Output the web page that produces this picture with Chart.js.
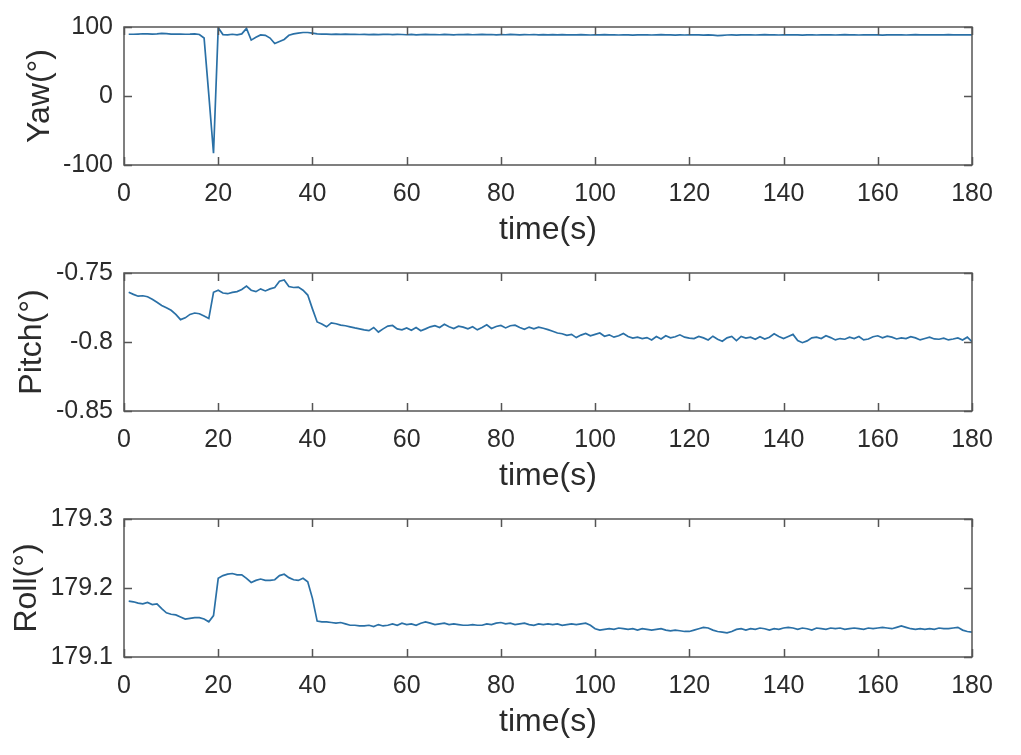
<!DOCTYPE html>
<html>
<head>
<meta charset="utf-8">
<script src="https://cdn.jsdelivr.net/npm/chart.js@4.4.1/dist/chart.umd.min.js"></script>
<style>
  body { margin: 0; background: #fff; }
  #wrap { position: relative; width: 1021px; height: 755px; overflow: hidden; }
  canvas { position: absolute; left: 0; }
</style>
</head>
<body>
<div id="wrap">
  <canvas id="yaw" width="1021" height="260" style="top:0px"></canvas>
  <canvas id="pitch" width="1021" height="260" style="top:246px"></canvas>
  <canvas id="roll" width="1021" height="260" style="top:492px"></canvas>
</div>
<script>
// time stamps (s)
const timeS = [
  1,2,3,4,5,6,7,8,9,10,11,12,13,14,15,16,17,18,19,20,
  21,22,23,24,25,26,27,28,29,30,31,32,33,34,35,36,37,38,39,40,
  41,42,43,44,45,46,47,48,49,50,51,52,53,54,55,56,57,58,59,60,
  61,62,63,64,65,66,67,68,69,70,71,72,73,74,75,76,77,78,79,80,
  81,82,83,84,85,86,87,88,89,90,91,92,93,94,95,96,97,98,99,100,
  101,102,103,104,105,106,107,108,109,110,111,112,113,114,115,116,117,118,119,120,
  121,122,123,124,125,126,127,128,129,130,131,132,133,134,135,136,137,138,139,140,
  141,142,143,144,145,146,147,148,149,150,151,152,153,154,155,156,157,158,159,160,
  161,162,163,164,165,166,167,168,169,170,171,172,173,174,175,176,177,178,179,180
];

// Yaw (deg)
const yawDeg = [
  89.5, 89.5, 89.8, 90.2, 90.0, 89.6, 90.1, 90.8, 90.3, 89.8,
  89.6, 89.7, 89.5, 89.6, 90.0, 89.2, 84, 2, -83, 99,
  89, 88.5, 89.5, 88.5, 90, 98, 81, 85, 88.5, 88,
  84, 76, 79, 82, 88, 90, 91, 92, 92, 91,
  90.0, 89.6, 89.8, 89.4, 89.7, 89.3, 89.6, 89.2, 89.5, 89.1,
  89.4, 89.0, 89.3, 88.9, 89.2, 89.5, 89.0, 89.3, 89.1, 88.8,
  89.2, 88.7, 89.0, 89.3, 88.9, 89.1, 88.8, 89.2, 89.0, 88.7,
  89.1, 88.9, 89.2, 88.8, 89.0, 89.3, 88.9, 89.1, 88.7, 89.0,
  88.8, 89.2, 88.9, 88.6, 89.0, 88.8, 89.1, 88.7, 88.9, 88.6,
  88.9, 88.7, 89.0, 88.6, 88.8, 88.5, 88.9, 88.7, 88.4, 88.8,
  88.6, 88.9, 88.5, 88.7, 88.4, 88.8, 88.6, 88.3, 88.7, 88.5,
  88.8, 88.4, 88.6, 88.9, 88.5, 88.7, 88.3, 88.6, 88.4, 88.8,
  88.5, 88.7, 88.3, 88.6, 88.1, 87.6, 88.0, 88.4, 88.6, 88.3,
  88.7, 88.5, 88.8, 88.4, 88.6, 88.9, 88.5, 88.7, 88.4, 88.6,
  88.8, 88.5, 88.7, 88.3, 88.6, 88.8, 88.4, 88.7, 88.5, 88.8,
  88.4, 88.6, 88.9, 88.5, 88.7, 88.4, 88.6, 88.8, 88.5, 88.7,
  88.3, 88.6, 88.8, 88.5, 88.7, 88.4, 88.6, 88.9, 88.5, 88.7,
  88.6, 88.8, 88.5, 88.7, 88.9, 88.6, 88.8, 88.5, 88.7, 88.6
];

// Pitch (deg)
const pitchDeg = [
  -0.7640, -0.7655, -0.7668, -0.7665, -0.7672, -0.7690, -0.7712, -0.7735, -0.7752, -0.7770,
  -0.7800, -0.7838, -0.7825, -0.7800, -0.7790, -0.7795, -0.7812, -0.7830, -0.7640, -0.7625,
  -0.7645, -0.7650, -0.7640, -0.7635, -0.7620, -0.7595, -0.7625, -0.7635, -0.7615, -0.7630,
  -0.7615, -0.7605, -0.7560, -0.7550, -0.7598, -0.7605, -0.7602, -0.7625, -0.7660, -0.7760,
  -0.7855, -0.7870, -0.7890, -0.7862, -0.7868, -0.7878, -0.7882, -0.7890, -0.7898, -0.7905,
  -0.7912, -0.7918, -0.7895, -0.7928, -0.7905, -0.7885, -0.7880, -0.7905, -0.7912, -0.7898,
  -0.7915, -0.7895, -0.7918, -0.7905, -0.7890, -0.7882, -0.7895, -0.7872, -0.7890, -0.7902,
  -0.7885, -0.7892, -0.7905, -0.7890, -0.7912, -0.7895, -0.7875, -0.7902, -0.7888, -0.7880,
  -0.7898, -0.7882, -0.7878, -0.7895, -0.7908, -0.7892, -0.7905, -0.7892, -0.7900, -0.7910,
  -0.7922, -0.7935, -0.7940, -0.7952, -0.7945, -0.7968, -0.7950, -0.7938, -0.7955, -0.7945,
  -0.7935, -0.7958, -0.7948, -0.7965, -0.7955, -0.7938, -0.7960, -0.7972, -0.7965, -0.7975,
  -0.7968, -0.7985, -0.7960, -0.7978, -0.7955, -0.7970, -0.7962, -0.7948, -0.7965, -0.7972,
  -0.7975, -0.7960, -0.7970, -0.7985, -0.7958, -0.7980, -0.7995, -0.7970, -0.7960, -0.7990,
  -0.7960, -0.7972, -0.7965, -0.7980, -0.7962, -0.7978, -0.7965, -0.7940, -0.7960, -0.7975,
  -0.7960, -0.7945, -0.7990, -0.8005, -0.7992, -0.7970, -0.7965, -0.7975, -0.7955, -0.7968,
  -0.7985, -0.7975, -0.7980, -0.7965, -0.7975, -0.7960, -0.7985, -0.7978, -0.7962, -0.7955,
  -0.7970, -0.7958, -0.7965, -0.7978, -0.7970, -0.7975, -0.7962, -0.7970, -0.7985, -0.7975,
  -0.7965, -0.7978, -0.7980, -0.7972, -0.7985, -0.7978, -0.7970, -0.7985, -0.7965, -0.7998
];

// Roll (deg)
const rollDeg = [
  179.181, 179.180, 179.178, 179.177, 179.179, 179.176, 179.177, 179.170, 179.164, 179.162,
  179.161, 179.158, 179.155, 179.156, 179.157, 179.157, 179.155, 179.151, 179.160, 179.214,
  179.218, 179.220, 179.221, 179.219, 179.219, 179.214, 179.208, 179.211, 179.213, 179.211,
  179.211, 179.212, 179.218, 179.220, 179.215, 179.212, 179.211, 179.214, 179.209, 179.185,
  179.152, 179.151, 179.151, 179.150, 179.149, 179.150, 179.148, 179.146, 179.146, 179.145,
  179.145, 179.146, 179.144, 179.147, 179.145, 179.146, 179.148, 179.146, 179.149, 179.147,
  179.148, 179.146, 179.149, 179.151, 179.149, 179.147, 179.148, 179.149, 179.147, 179.148,
  179.147, 179.146, 179.146, 179.147, 179.146, 179.146, 179.148, 179.147, 179.149, 179.150,
  179.148, 179.149, 179.147, 179.148, 179.149, 179.147, 179.146, 179.148, 179.147, 179.148,
  179.147, 179.148, 179.146, 179.147, 179.148, 179.147, 179.148, 179.149, 179.146, 179.141,
  179.139, 179.140, 179.141, 179.140, 179.142, 179.141, 179.140, 179.141, 179.139, 179.141,
  179.140, 179.139, 179.140, 179.141, 179.139, 179.138, 179.139, 179.138, 179.137, 179.137,
  179.139, 179.141, 179.143, 179.142, 179.139, 179.137, 179.136, 179.135, 179.137, 179.140,
  179.141, 179.139, 179.141, 179.140, 179.142, 179.141, 179.139, 179.141, 179.140, 179.142,
  179.143, 179.142, 179.140, 179.142, 179.141, 179.139, 179.142, 179.141, 179.140, 179.142,
  179.141, 179.142, 179.140, 179.141, 179.142, 179.141, 179.140, 179.142, 179.141, 179.142,
  179.143, 179.142, 179.141, 179.143, 179.145, 179.143, 179.141, 179.140, 179.141, 179.140,
  179.141, 179.140, 179.142, 179.141, 179.141, 179.142, 179.143, 179.139, 179.137, 179.136
];

// tick labels
const timeTicks = [0, 20, 40, 60, 80, 100, 120, 140, 160, 180];
const yawTicks = [-100, 0, 100];
const pitchTicks = [-0.85, -0.8, -0.75];
const rollTicks = [179.1, 179.2, 179.3];

const FONT = 'Arial, "Liberation Sans", Helvetica, sans-serif';
const TEXT = '#2b2b2b';
const LINE = '#2a70a6';

// MATLAB-like box with inward tick marks on all four sides
const boxPlugin = {
    id: 'matBox',
    afterDatasetsDraw(chart) {
        const { ctx, chartArea: a, scales: { x, y } } = chart;
        const len = 8;
        ctx.save();
        ctx.strokeStyle = '#555555';
        ctx.lineWidth = 1.5;
        ctx.strokeRect(a.left, a.top, a.right - a.left, a.bottom - a.top);
        ctx.beginPath();
        x.ticks.forEach(t => {
            const px = Math.round(x.getPixelForValue(t.value)) + 0.5;
            ctx.moveTo(px, a.bottom); ctx.lineTo(px, a.bottom - len);
            ctx.moveTo(px, a.top); ctx.lineTo(px, a.top + len);
        });
        y.ticks.forEach(t => {
            const py = Math.round(y.getPixelForValue(t.value)) + 0.5;
            ctx.moveTo(a.left, py); ctx.lineTo(a.left + len, py);
            ctx.moveTo(a.right, py); ctx.lineTo(a.right - len, py);
        });
        ctx.stroke();
        ctx.restore();
    }
};

function makePanel(id, values, yTicks, yTitle, titlePad) {
    const pts = timeS.map((t, i) => ({ x: t, y: values[i] }));
    return new Chart(document.getElementById(id), {
        type: 'line',
        data: {
            datasets: [{
                data: pts,
                borderColor: LINE,
                borderWidth: 1.7,
                pointRadius: 0,
                tension: 0,
                fill: false
            }]
        },
        options: {
            responsive: false,
            animation: false,
            devicePixelRatio: 1,
            layout: { padding: { left: 0, right: 49, top: 27, bottom: 0 } },
            plugins: { legend: { display: false }, tooltip: { enabled: false } },
            scales: {
                x: {
                    type: 'linear',
                    min: 0,
                    max: 180,
                    afterBuildTicks: s => { s.ticks = timeTicks.map(v => ({ value: v })); },
                    afterFit: s => { s.height = 95; },
                    grid: { display: false, drawTicks: false },
                    border: { display: false },
                    ticks: {
                        padding: 14,
                        maxRotation: 0,
                        autoSkip: false,
                        color: TEXT,
                        font: { family: FONT, size: 25 },
                        callback: v => String(v)
                    },
                    title: {
                        display: true,
                        text: 'time(s)',
                        color: TEXT,
                        font: { family: FONT, size: 32 },
                        padding: { top: 0, bottom: 10.8 }
                    }
                },
                y: {
                    min: yTicks[0],
                    max: yTicks[yTicks.length - 1],
                    afterBuildTicks: s => { s.ticks = yTicks.map(v => ({ value: v })); },
                    afterFit: s => { s.width = 124; },
                    grid: { display: false, drawTicks: false },
                    border: { display: false },
                    ticks: {
                        padding: 11,
                        color: TEXT,
                        font: { family: FONT, size: 25 },
                        callback: v => String(v)
                    },
                    title: {
                        display: true,
                        text: yTitle,
                        color: TEXT,
                        font: { family: FONT, size: 32 },
                        padding: { top: titlePad, bottom: 0 }
                    }
                }
            }
        },
        plugins: [boxPlugin]
    });
}

makePanel('yaw', yawDeg, yawTicks, 'Yaw(°)', 21);
makePanel('pitch', pitchDeg, pitchTicks, 'Pitch(°)', 13);
makePanel('roll', rollDeg, rollTicks, 'Roll(°)', 8);
</script>
</body>
</html>
